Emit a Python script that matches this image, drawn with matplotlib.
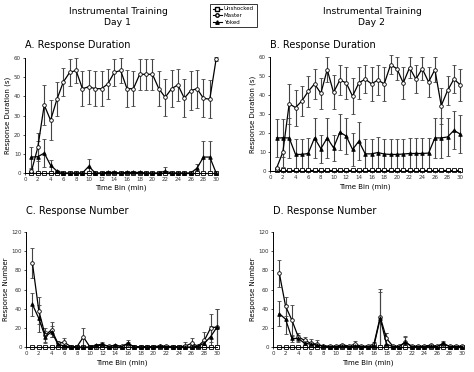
import matplotlib
matplotlib.use("Agg")
import matplotlib.pyplot as plt
import numpy as np
from matplotlib.lines import Line2D

# time bins (min)
bins = np.arange(1, 31)

# Panel A - response duration, day 1
a_master = [1, 13.5, 35.5, 27.5, 38.5, 47.5, 52.5, 53.5, 44, 45, 44, 44, 46.5, 52.5, 53.5,
            44, 44, 51.5, 51.5, 51.5, 44, 39.5, 44, 46, 39, 43, 44, 39, 38.5, 59.5]
a_master_sem = [1, 7.5, 10.5, 10.5, 9, 7.5, 7, 6.5, 9, 9, 9, 9, 8, 7, 6.5,
                9.5, 9, 8, 8, 8, 9, 9.5, 9.5, 8.5, 10, 10, 10, 10, 10, 1]
a_yoked = [8.3, 8.5, 10.4, 4, 1, 0, 0, 0, 0, 3.5, 0, 0, 0.3, 0.3, 0,
           0.3, 0.3, 0.3, 0, 0, 0, 1, 0, 0, 0, 0, 2.5, 8.3, 8.3, 0]
a_yoked_sem = [5.5, 8, 7.5, 3, 0.8, 0, 0, 0, 0, 4, 0, 0, 0, 0, 0,
               0, 0, 0, 0, 0, 0, 2, 0, 0, 0, 0, 2, 8.3, 8.3, 0]
a_unshocked = [0] * 30
a_unshocked_sem = [0] * 30

# Panel B - response duration, day 2
b_master = [1.5, 10, 35.5, 33.5, 37, 42, 46, 41, 53.5, 41.5, 48, 46.5, 39.5, 46.5, 48.5,
            46, 48, 46, 56, 54, 46.5, 54.5, 48.5, 54, 47, 53.5, 34.5, 42.5, 48.5, 45.5]
b_master_sem = [0.5, 8, 10.5, 9.5, 8, 8, 8, 8, 6.5, 9, 8, 8.5, 9.5, 8.5, 7.5,
                9, 8, 9, 5, 6, 8.5, 5.5, 7.5, 6, 8, 6.5, 9.5, 7.5, 7.5, 8.5]
b_yoked = [17.5, 17.5, 17.5, 8.8, 8.8, 9.3, 17.5, 11.8, 17.5, 12.3, 20.5, 18.5, 11.4, 15.8, 9.1,
           9.1, 9.8, 9, 8.8, 8.8, 9, 9.3, 9.3, 9.3, 9.5, 17.5, 17.5, 18, 21.5, 19.5]
b_yoked_sem = [10, 10, 10.5, 8, 8, 8, 10.5, 7.5, 10.5, 7, 9.5, 9.5, 8.5, 10, 8,
               8, 8, 8, 8, 8, 8, 8, 8, 8, 8, 10.5, 10.5, 10, 10, 10]
b_unshocked = [0.5] * 30
b_unshocked_sem = [0.5] * 30

# Panel C - response number, day 1
c_master = [87.6, 38, 12.4, 18, 4, 5, 0.5, 0.5, 10.5, 0.5, 1.5, 2, 1, 1.5, 1,
            3, 0.5, 0.5, 0.5, 0.5, 1, 1, 0.5, 0.5, 1, 4, 1, 7, 20, 21]
c_master_sem = [16, 14, 7, 8, 2, 4, 0.5, 0.5, 9.5, 0.5, 1, 2, 1, 1, 0.5,
                2, 0.5, 0.5, 0.5, 0.5, 0.5, 0.5, 0.5, 0.5, 4, 5, 1, 9, 15, 19]
c_yoked = [44.5, 30, 10.7, 16, 3, 1, 0, 0, 0, 0, 2, 3, 0.5, 2, 0.5,
           4, 0, 0, 0, 0, 1, 0.5, 0, 0, 0, 0, 1, 4, 11, 21]
c_yoked_sem = [12, 14, 6, 6, 2, 1, 0, 0, 0, 0, 1, 2, 0, 1, 0,
               3, 0, 0, 0, 0, 1, 0, 0, 0, 0, 0, 1, 3, 11, 19]
c_unshocked = [0] * 30
c_unshocked_sem = [0] * 30

# Panel D - response number, day 2
d_master = [77, 42.5, 28, 10.7, 7, 4, 3, 1, 1, 1, 2.5, 1, 3, 1, 1,
            3, 31.4, 9, 1, 1, 5, 1, 1, 1, 2, 1, 3, 1, 1, 1]
d_master_sem = [14, 10, 16, 4, 3, 4, 4, 1, 1, 1, 1, 1, 3, 1, 1,
                2, 29, 6, 1, 1, 6, 1, 1, 1, 1, 1, 2, 1, 1, 1]
d_yoked = [35, 29, 9, 9, 4, 3, 2, 1, 0.5, 0.5, 1, 0.5, 1, 0.5, 0.5,
           1, 30, 3, 0.5, 0.5, 5, 0.5, 0.5, 0.5, 1, 0.5, 4, 0.5, 0.5, 0.5]
d_yoked_sem = [13, 15, 4, 4, 4, 2, 1, 0.5, 0.5, 0.5, 1, 0.5, 1, 0.5, 0.5,
               1, 28, 12, 0.5, 0.5, 7, 0.5, 0.5, 0.5, 1, 0.5, 2, 0.5, 0.5, 0.5]
d_unshocked = [0] * 30
d_unshocked_sem = [0] * 30

x_ticks = np.arange(0, 31, 2)

fig = plt.figure(figsize=(4.74, 3.72), dpi=100)
fig.patch.set_facecolor("white")


def draw_series(ax, vals, sem, marker, face):
    vals = np.array(vals, dtype=float)
    sem = np.array(sem, dtype=float)
    lower = np.minimum(sem, vals)
    ax.errorbar(bins, vals, yerr=[lower, sem], color="black", ecolor="#444444",
                elinewidth=0.8, capsize=1.6, capthick=0.7, lw=0.9,
                marker=marker, ms=2.6, mfc=face, mec="black", mew=0.6, clip_on=False)


def setup_panel(rect, ymax, ystep, ylabel, title, title_y, series):
    ax = fig.add_axes(rect)
    for vals, sem, marker, face in series:
        draw_series(ax, vals, sem, marker, face)
    ax.set_xlim(0, 30)
    ax.set_ylim(0, ymax)
    ax.set_xticks(x_ticks)
    ax.set_yticks(np.arange(0, ymax + 1, ystep))
    ax.tick_params(labelsize=4, length=1.5, width=0.6, pad=1.5, colors="#333333")
    for s in ["top", "right"]:
        ax.spines[s].set_visible(False)
    for s in ["left", "bottom"]:
        ax.spines[s].set_linewidth(0.7)
    ax.set_xlabel("Time Bin (min)", fontsize=5, labelpad=2)
    ax.set_ylabel(ylabel, fontsize=5, labelpad=2)
    ax.text(0.0, title_y, title, transform=ax.transAxes, fontsize=7, ha="left", va="center")
    return ax


setup_panel([0.053, 0.535, 0.403, 0.309], 60, 10, "Response Duration (s)", "A. Response Duration", 1.11,
            [(a_unshocked, a_unshocked_sem, "s", "white"),
             (a_master, a_master_sem, "o", "white"),
             (a_yoked, a_yoked_sem, "^", "black")])
setup_panel([0.570, 0.540, 0.401, 0.306], 60, 10, "Response Duration (s)", "B. Response Duration", 1.11,
            [(b_unshocked, b_unshocked_sem, "s", "white"),
             (b_master, b_master_sem, "o", "white"),
             (b_yoked, b_yoked_sem, "^", "black")])
setup_panel([0.055, 0.067, 0.403, 0.309], 120, 20, "Response Number", "C. Response Number", 1.18,
            [(c_unshocked, c_unshocked_sem, "s", "white"),
             (c_master, c_master_sem, "o", "white"),
             (c_yoked, c_yoked_sem, "^", "black")])
setup_panel([0.576, 0.067, 0.399, 0.309], 120, 20, "Response Number", "D. Response Number", 1.18,
            [(d_unshocked, d_unshocked_sem, "s", "white"),
             (d_master, d_master_sem, "o", "white"),
             (d_yoked, d_yoked_sem, "^", "black")])

fig.text(118 / 474, 1 - 17 / 372, "Instrumental Training\nDay 1", ha="center", va="center",
         fontsize=6.7, linespacing=1.25)
fig.text(372 / 474, 1 - 17 / 372, "Instrumental Training\nDay 2", ha="center", va="center",
         fontsize=6.7, linespacing=1.25)

handles = [Line2D([], [], color="black", lw=0.8, marker="s", ms=2.5, mfc="white", mec="black"),
           Line2D([], [], color="black", lw=0.8, marker="o", ms=2.5, mfc="white", mec="black"),
           Line2D([], [], color="black", lw=0.8, marker="^", ms=2.5, mfc="black", mec="black")]
leg = fig.legend(handles, ["Unshocked", "Master", "Yoked"], loc="upper center",
                 bbox_to_anchor=(233.5 / 474, 1 - 4 / 372), fontsize=4, frameon=True,
                 fancybox=False, handlelength=1.6, handletextpad=0.4, labelspacing=0.3,
                 borderpad=0.45, borderaxespad=0)
leg.get_frame().set_edgecolor("black")
leg.get_frame().set_linewidth(0.7)

plt.savefig("out.png", dpi=100)
